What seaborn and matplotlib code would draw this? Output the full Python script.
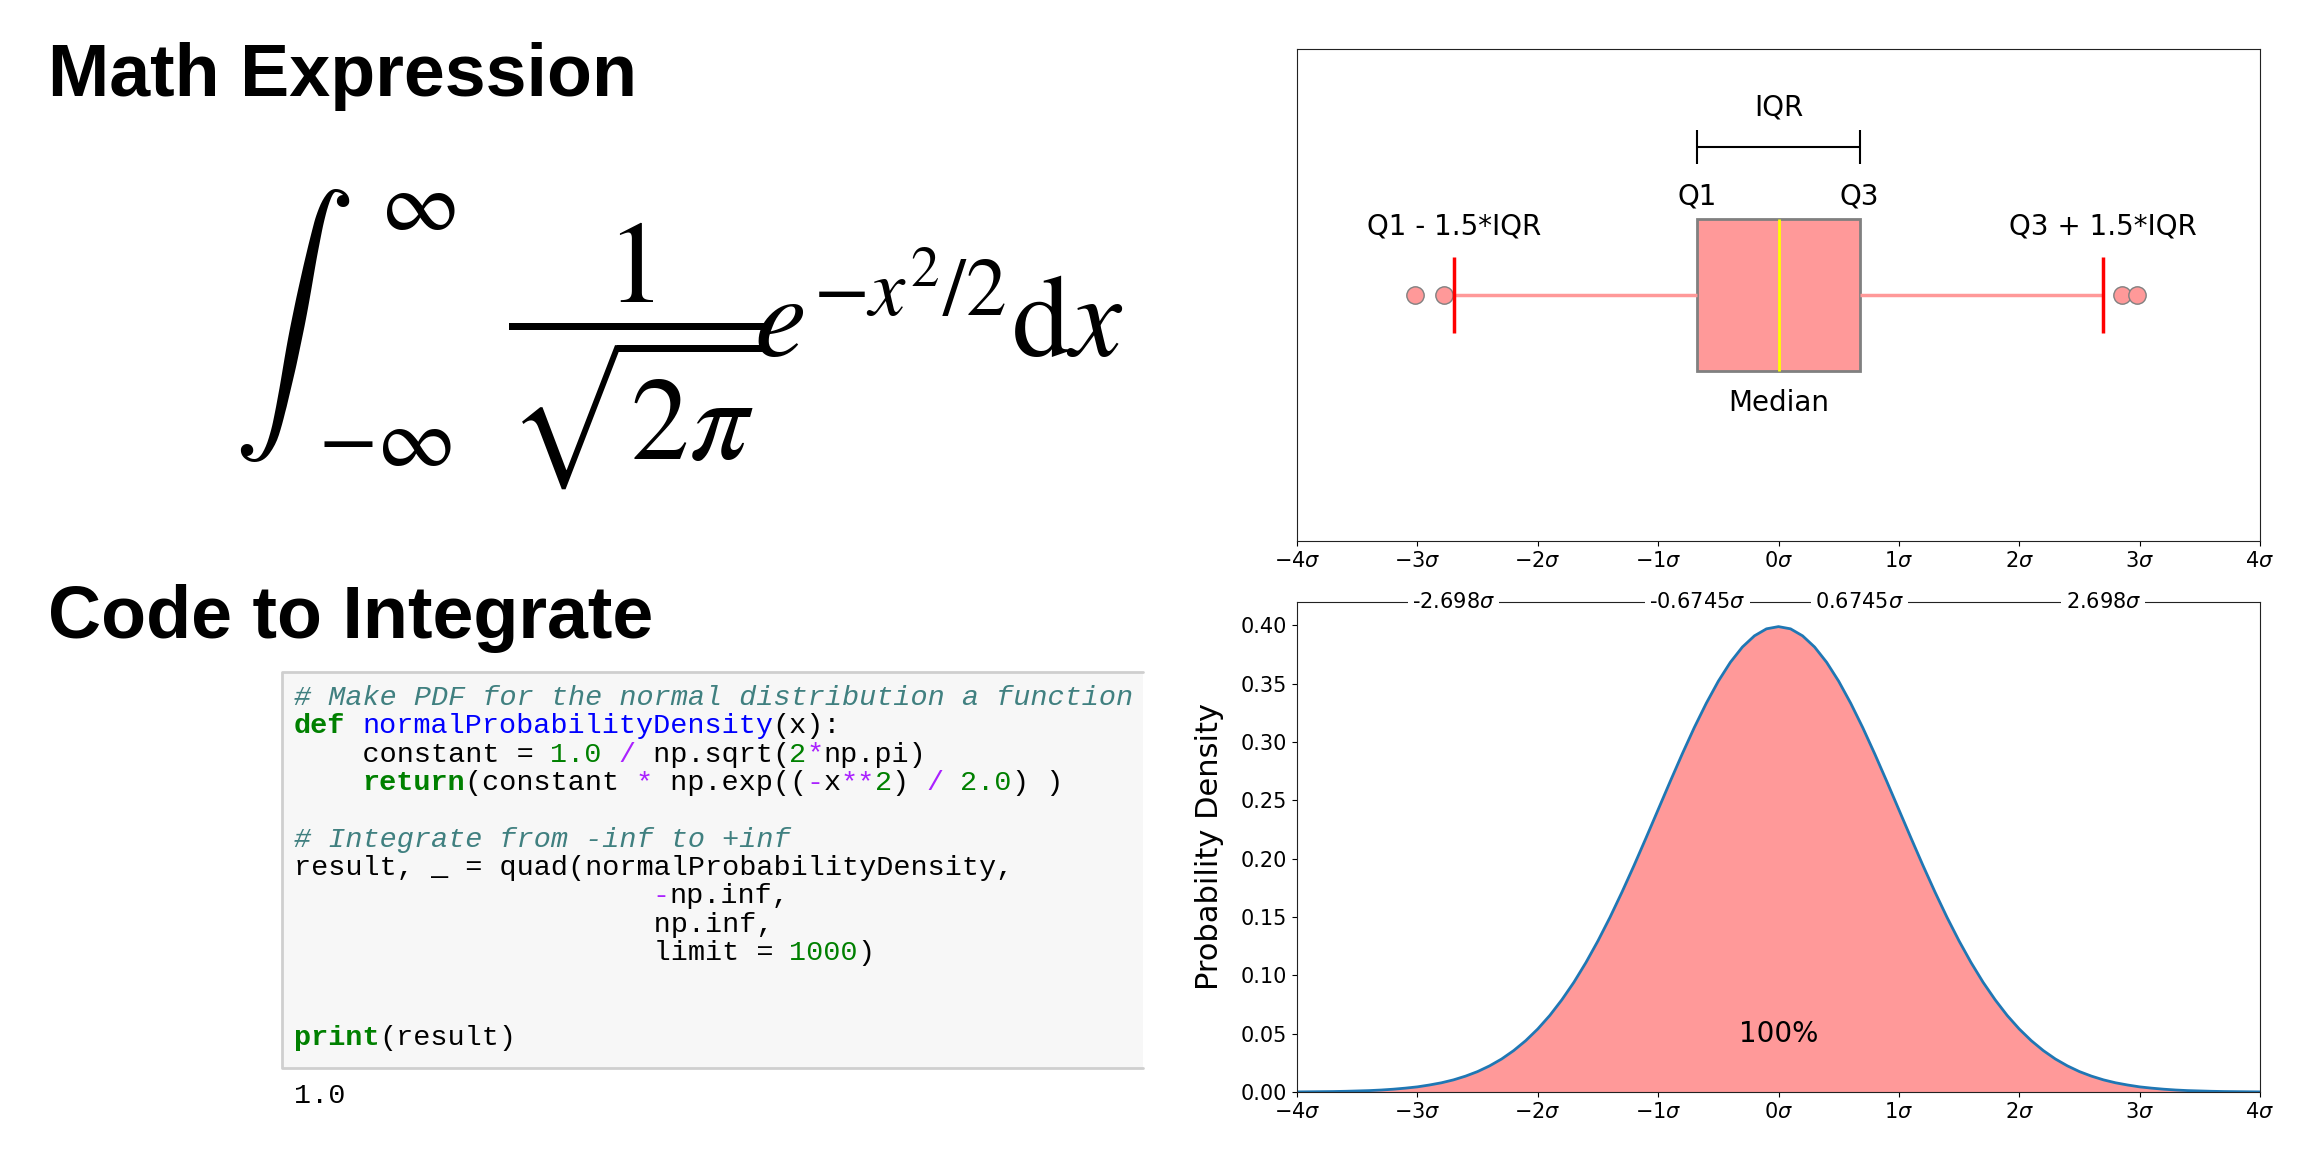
import numpy as np
import pandas as pd
import matplotlib.pyplot as plt
import seaborn as sns
from matplotlib.patches import Rectangle

# ---- values ----
sigma_ticks = [-4, -3, -2, -1, 0, 1, 2, 3, 4]
sigma_labels = ['−4$\\sigma$', '−3$\\sigma$', '−2$\\sigma$', '−1$\\sigma$', '0$\\sigma$',
                '1$\\sigma$', '2$\\sigma$', '3$\\sigma$', '4$\\sigma$']

# sample whose quartiles / whiskers / fliers match the box in the reference
box_values = [-3.02, -2.78, -2.6975, -0.6745, -0.5, -0.25, 0.0,
              0.25, 0.5, 0.6745, 2.6975, 2.85, 2.98]
quartiles = [-0.6745, 0.6745]
fences = [-2.698, 2.698]
fence_labels = ['Q1 - 1.5*IQR', 'Q3 + 1.5*IQR']
quartile_labels = ['Q1', 'Q3']

pdf_x = [-4.0, -3.9, -3.8, -3.7, -3.6, -3.5, -3.4, -3.3, -3.2, -3.1,
         -3.0, -2.9, -2.8, -2.7, -2.6, -2.5, -2.4, -2.3, -2.2, -2.1,
         -2.0, -1.9, -1.8, -1.7, -1.6, -1.5, -1.4, -1.3, -1.2, -1.1,
         -1.0, -0.9, -0.8, -0.7, -0.6, -0.5, -0.4, -0.3, -0.2, -0.1,
         0.0, 0.1, 0.2, 0.3, 0.4, 0.5, 0.6, 0.7, 0.8, 0.9,
         1.0, 1.1, 1.2, 1.3, 1.4, 1.5, 1.6, 1.7, 1.8, 1.9,
         2.0, 2.1, 2.2, 2.3, 2.4, 2.5, 2.6, 2.7, 2.8, 2.9,
         3.0, 3.1, 3.2, 3.3, 3.4, 3.5, 3.6, 3.7, 3.8, 3.9, 4.0]
pdf_y = [0.0001, 0.0002, 0.0003, 0.0004, 0.0006, 0.0009, 0.0012, 0.0017, 0.0024, 0.0033,
         0.0044, 0.0060, 0.0079, 0.0104, 0.0136, 0.0175, 0.0224, 0.0283, 0.0355, 0.0440,
         0.0540, 0.0656, 0.0790, 0.0940, 0.1109, 0.1295, 0.1497, 0.1714, 0.1942, 0.2179,
         0.2420, 0.2661, 0.2897, 0.3123, 0.3332, 0.3521, 0.3683, 0.3814, 0.3910, 0.3970,
         0.3989, 0.3970, 0.3910, 0.3814, 0.3683, 0.3521, 0.3332, 0.3123, 0.2897, 0.2661,
         0.2420, 0.2179, 0.1942, 0.1714, 0.1497, 0.1295, 0.1109, 0.0940, 0.0790, 0.0656,
         0.0540, 0.0440, 0.0355, 0.0283, 0.0224, 0.0175, 0.0136, 0.0104, 0.0079, 0.0060,
         0.0044, 0.0033, 0.0024, 0.0017, 0.0012, 0.0009, 0.0006, 0.0004, 0.0003, 0.0002, 0.0001]
density_ticks = [0.0, 0.05, 0.10, 0.15, 0.20, 0.25, 0.30, 0.35, 0.40]
top_marks = [-2.698, -0.6745, 0.6745, 2.698]
top_mark_labels = ['-2.698$\\sigma$', '-0.6745$\\sigma$', '0.6745$\\sigma$', '2.698$\\sigma$']

# notebook cell, split into highlighted tokens
code_lines = [
    [('# Make PDF for the normal distribution a function', 'comment')],
    [('def', 'kw'), (' ', 'txt'), ('normalProbabilityDensity', 'name'), ('(x):', 'txt')],
    [('    constant = ', 'txt'), ('1.0', 'num'), (' ', 'txt'), ('/', 'op'), (' np.sqrt(', 'txt'),
     ('2', 'num'), ('*', 'op'), ('np.pi)', 'txt')],
    [('    ', 'txt'), ('return', 'kw'), ('(constant ', 'txt'), ('*', 'op'), (' np.exp((', 'txt'),
     ('-', 'op'), ('x', 'txt'), ('**', 'op'), ('2', 'num'), (') ', 'txt'), ('/', 'op'),
     (' ', 'txt'), ('2.0', 'num'), (') )', 'txt')],
    [],
    [('# Integrate from -inf to +inf', 'comment')],
    [('result, _ = quad(normalProbabilityDensity,', 'txt')],
    [(' ' * 21, 'txt'), ('-', 'op'), ('np.inf,', 'txt')],
    [(' ' * 21 + 'np.inf,', 'txt')],
    [(' ' * 21 + 'limit = ', 'txt'), ('1000', 'num'), (')', 'txt')],
    [],
    [],
    [('print', 'kw'), ('(result)', 'txt')],
]
code_output = '1.0'
code_styles = {
    'comment': dict(color='#408080', style='italic'),
    'kw': dict(color='#008000', weight='bold'),
    'name': dict(color='#0000ff'),
    'num': dict(color='#008000'),
    'op': dict(color='#aa22ff'),
    'txt': dict(color='#000000'),
}

W, H = 2297, 1149
PINK = '#ff9999'

sns.set_style('ticks')
plt.rcParams['font.family'] = ['DejaVu Sans']
plt.rcParams.update({'text.color': 'black', 'axes.labelcolor': 'black',
                     'xtick.color': 'black', 'ytick.color': 'black',
                     'axes.edgecolor': '#222222'})

fig = plt.figure(figsize=(W / 100, H / 100), dpi=100)

# background axes in pixel coordinates for the left-hand panel
bg = fig.add_axes([0, 0, 1, 1])
bg.set_xlim(0, W)
bg.set_ylim(H, 0)
bg.axis('off')

bg.text(48, 96, 'Math Expression', fontsize=53, fontweight='bold',
        family='Liberation Sans', va='baseline')
bg.text(48, 638, 'Code to Integrate', fontsize=53, fontweight='bold',
        family='Liberation Sans', va='baseline')

# formula
bg.text(292, 325, r'$\int$', math_fontfamily='cm', fontsize=88, ha='center', va='center')
bg.text(418, 206, r'$\infty$', math_fontfamily='stix', fontsize=62, ha='center', va='center')
bg.text(385, 442, r'$-\infty$', math_fontfamily='stix', fontsize=62, ha='center', va='center')
bg.text(508, 356, r'$\dfrac{1}{\sqrt{2\pi}}$', math_fontfamily='stix',
        fontsize=84, ha='left', va='center')
bg.text(754, 357, r'$e^{-x^2/2}\mathrm{d}x$', math_fontfamily='stix',
        fontsize=84, ha='left', va='baseline')

# code cell
bg.add_patch(Rectangle((282, 672), 1143 - 282, 1068 - 672, facecolor='#f7f7f7',
                       edgecolor='none', zorder=1))
bg.plot([1143, 282, 282, 1143], [672, 672, 1068, 1068], color='#cfcfcf', lw=2, zorder=2)

code_fs = 20.5
char_w = 0.6 * code_fs * 100 / 72
x0, y0, line_h = 294, 705, 28.33
for i, tokens in enumerate(code_lines):
    col = 0
    for tok, kind in tokens:
        bg.text(x0 + col * char_w, y0 + i * line_h, tok, family='Liberation Mono',
                fontsize=code_fs, va='baseline', zorder=3, **code_styles[kind])
        col += len(tok)
bg.text(x0, 1103, code_output, family='Liberation Mono', fontsize=code_fs, va='baseline')

# ---- box plot ----
ax_box = fig.add_axes([1297 / W, 1 - 541 / H, (2260 - 1297) / W, (541 - 49) / H])
sns.boxplot(x=box_values, ax=ax_box, width=0.8, color=PINK, saturation=1,
            linecolor='#808080', linewidth=2, fliersize=12, showcaps=False,
            whiskerprops=dict(color=PINK, linewidth=2.5),
            medianprops=dict(color='#ffff00', linewidth=2),
            flierprops=dict(marker='o', markerfacecolor=PINK, markeredgecolor='#808080',
                            markersize=12.5))
ax_box.vlines(fences, -0.2, 0.2, color='red', lw=2.5, zorder=5)
ax_box.hlines(-0.78, quartiles[0], quartiles[1], color='black', lw=1.5)
ax_box.vlines(quartiles, -0.87, -0.69, color='black', lw=1.5)
ax_box.text(0, -0.99, 'IQR', fontsize=20, ha='center', va='center')
for q, lab in zip(quartiles, quartile_labels):
    ax_box.text(q, -0.52, lab, fontsize=20, ha='center', va='center')
for f, lab in zip(fences, fence_labels):
    ax_box.text(f, -0.36, lab, fontsize=20, ha='center', va='center')
ax_box.text(0, 0.57, 'Median', fontsize=20, ha='center', va='center')
ax_box.set_xlim(-4, 4)
ax_box.set_ylim(1.3, -1.3)
ax_box.set_yticks([])
ax_box.set_xticks(sigma_ticks)
ax_box.set_xticklabels(sigma_labels)
ax_box.tick_params(axis='x', labelsize=15)

# ---- density curve ----
ax_pdf = fig.add_axes([1297 / W, 1 - 1092 / H, (2260 - 1297) / W, (1092 - 602) / H])
pdf = pd.DataFrame({'x': pdf_x, 'y': pdf_y})
ax_pdf.fill_between(pdf['x'], pdf['y'], color=PINK, lw=0)
sns.lineplot(data=pdf, x='x', y='y', ax=ax_pdf, color='#1f77b4', lw=2)
ax_pdf.text(0, 0.05, '100%', fontsize=20, ha='center', va='center')
for m, lab in zip(top_marks, top_mark_labels):
    ax_pdf.text(m, 1.0, lab, transform=ax_pdf.get_xaxis_transform(), fontsize=15,
                ha='center', va='center', clip_on=False, zorder=10,
                bbox=dict(facecolor='white', edgecolor='none', pad=3))
ax_pdf.set_xlim(-4, 4)
ax_pdf.set_ylim(0, 0.42)
ax_pdf.set_xticks(sigma_ticks)
ax_pdf.set_xticklabels(sigma_labels)
ax_pdf.set_yticks(density_ticks)
ax_pdf.set_yticklabels([f'{v:.2f}' for v in density_ticks])
ax_pdf.tick_params(labelsize=15)
ax_pdf.set_xlabel('')
ax_pdf.set_ylabel('Probability Density', fontsize=22, labelpad=12)

fig.savefig('out.png', dpi=100)
